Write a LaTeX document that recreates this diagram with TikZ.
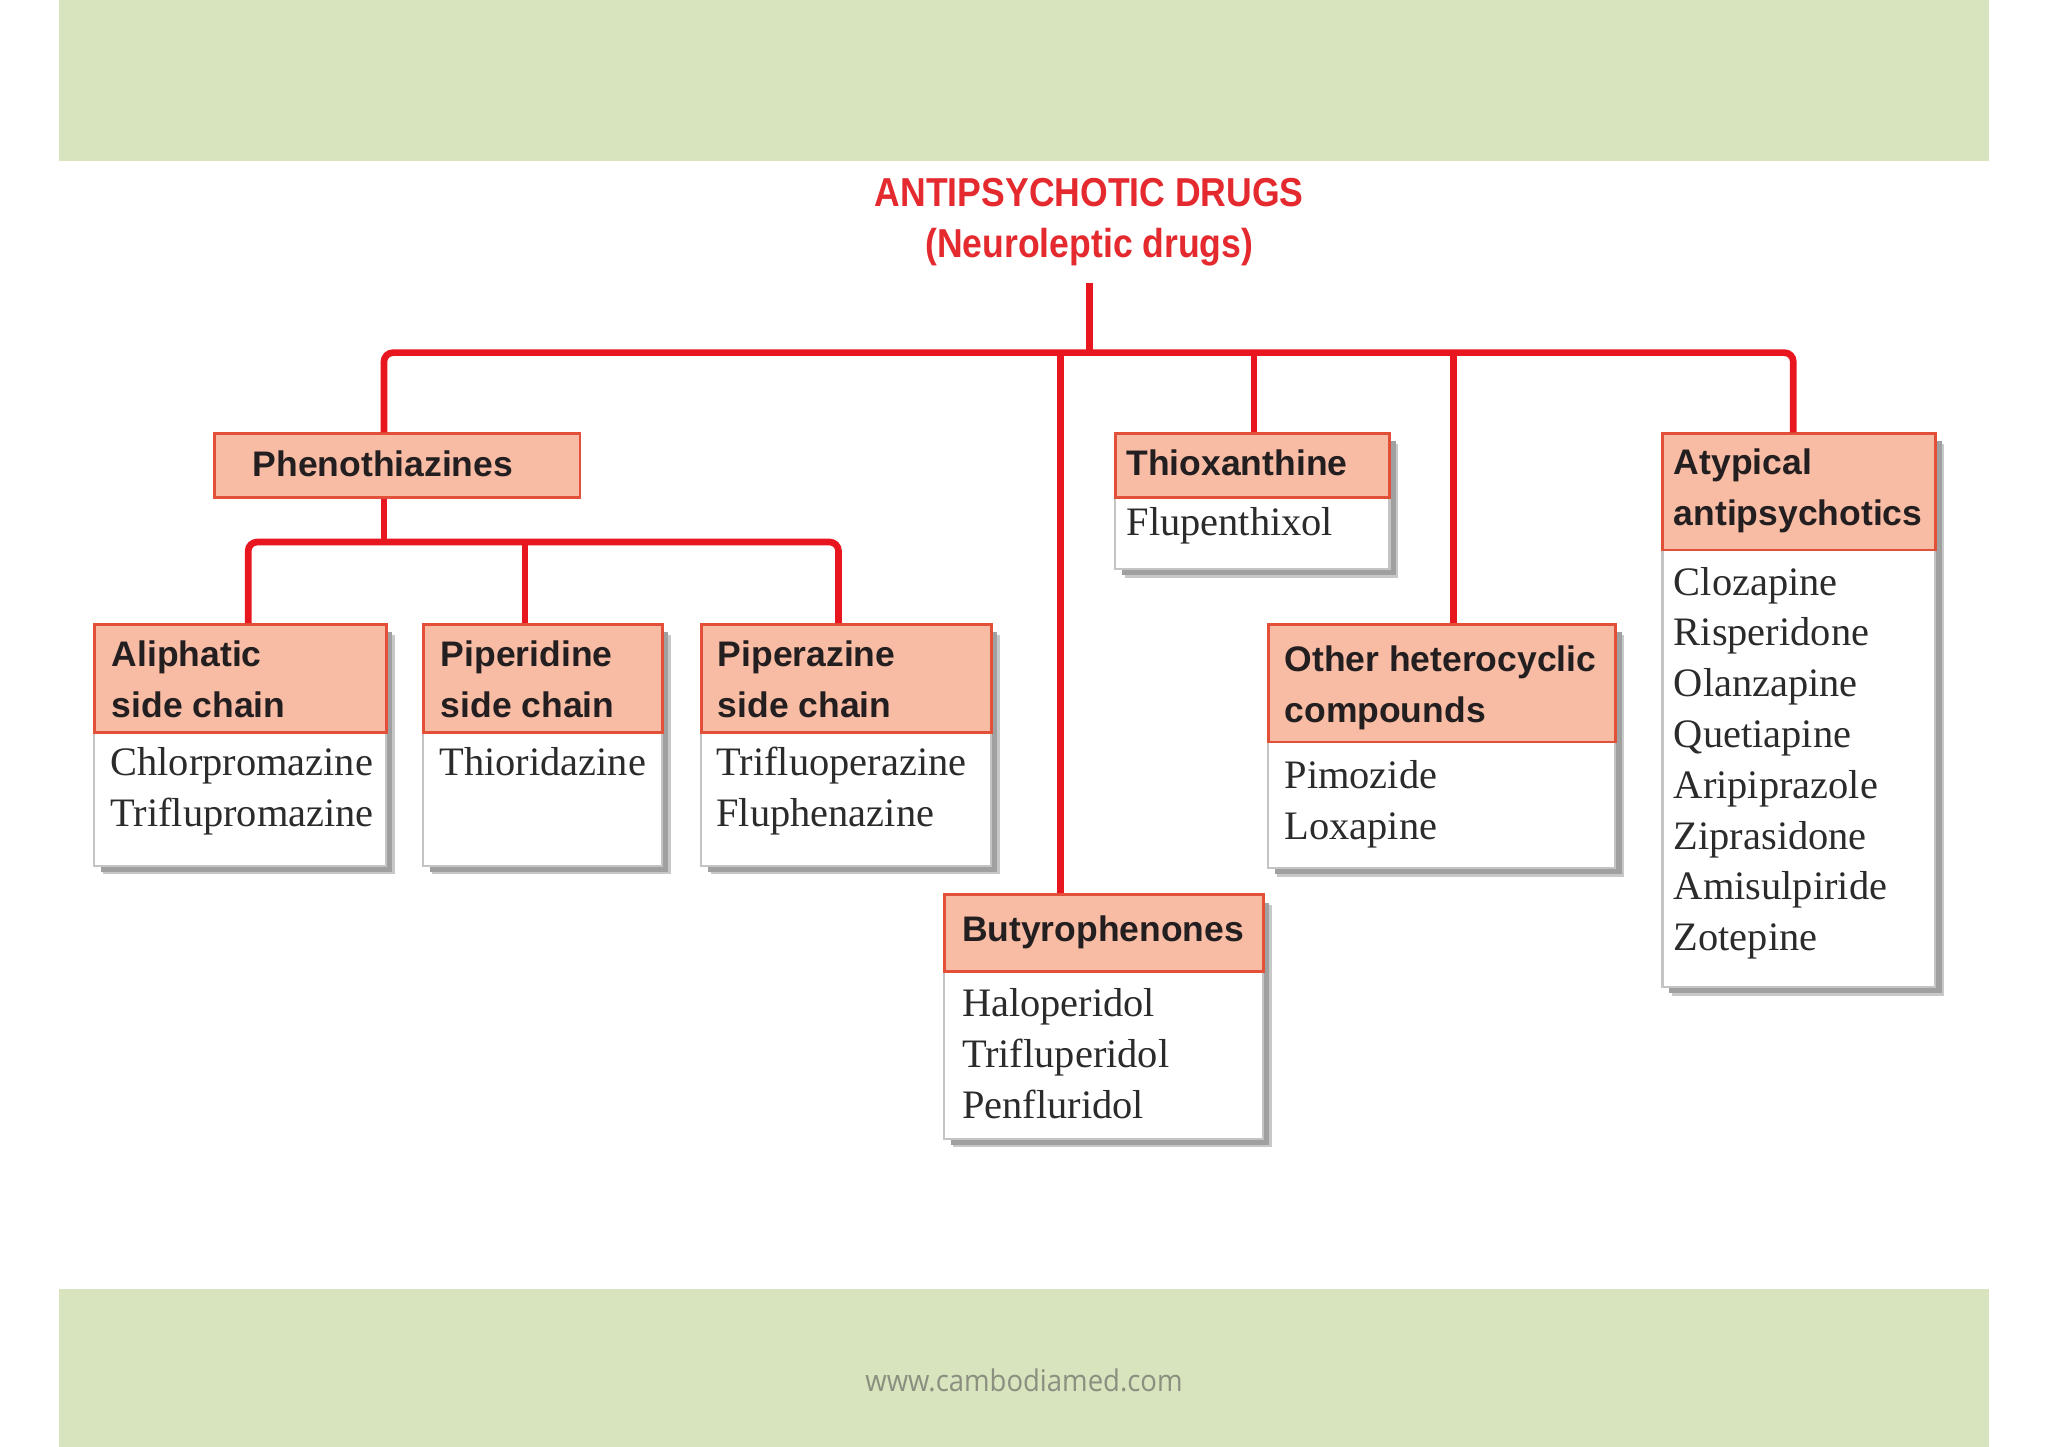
\documentclass[tikz,border=0pt]{standalone}
\usepackage{fontspec}
\usetikzlibrary{calc}
\newfontfamily\hdrfam{Liberation Sans}
\newfontfamily\titlefam{Liberation Sans}[FakeStretch=0.88]
\newfontfamily\serfam{Liberation Serif}
\newfontfamily\footfam{Open Sans}[FakeStretch=0.92]
\definecolor{bandgreen}{HTML}{D7E4BD}
\definecolor{linered}{HTML}{E8161F}
\definecolor{hdrfill}{HTML}{F8BBA3}
\definecolor{hdrborder}{HTML}{E2503A}
\definecolor{hdrtext}{HTML}{231F20}
\definecolor{bodytext}{HTML}{2B2B2B}
\definecolor{titlered}{HTML}{E42A2F}
\definecolor{shadowA}{HTML}{A0A0A0}
\definecolor{shadowB}{HTML}{C8C8C8}
\definecolor{bodyborder}{HTML}{C4C4C4}
\definecolor{foottext}{HTML}{8A8F80}
\newcommand{\U}{0.013061cm}
\tikzset{
  hdrbox/.style={rectangle, draw=hdrborder, fill=hdrfill, line width=0.8pt, inner sep=0pt, anchor=north west},
  bodybox/.style={rectangle, draw=bodyborder, fill=white, line width=0.6pt, inner sep=0pt, anchor=north west},
  htxt/.style={inner sep=0pt, anchor=base west, text=hdrtext, font=\hdrfam\bfseries\fontsize{10.1}{14}\selectfont},
  btxt/.style={inner sep=0pt, anchor=base west, text=bodytext, font=\serfam\fontsize{11.5}{14}\selectfont},
  ttxt/.style={inner sep=0pt, anchor=base, text=titlered, font=\titlefam\bfseries\fontsize{11.5}{14}\selectfont},
  conn/.style={draw=linered, line width=1.9pt},
}
% #1 name, #2 x1, #3 y top, #4 x2, #5 y header bottom, #6 y body bottom
\newcommand{\DrugBox}[6]{%
  \fill[shadowB] (#2+8,#3+9) rectangle (#4+7.5,#6+7.5);
  \fill[shadowA] (#2+6,#3+7) rectangle (#4+5.5,#6+5.5);
  \node[bodybox, minimum width={(#4-#2)*\U}, minimum height={(#6-#5)*\U}] (#1B) at (#2,#5) {};
  \node[hdrbox, minimum width={(#4-#2)*\U}, minimum height={(#5-#3)*\U}] (#1H) at (#2,#3) {};
}
\begin{document}
\begin{tikzpicture}[x=0.013061cm, y=-0.013061cm]
\path[use as bounding box, fill=white] (0,0) rectangle (1568,1107.8);
\fill[bandgreen] (45,0) rectangle (1523,123);
\fill[bandgreen] (45,987) rectangle (1523,1107.8);
\node[inner sep=0pt, anchor=base, text=foottext, font=\footfam\fontsize{8.5}{10}\selectfont] (foot) at (784,1065) {www.cambodiamed.com};

% title
\node[ttxt] (title1) at (834,158) {ANTIPSYCHOTIC DRUGS};
\node[ttxt] (title2) at (834,197) {(Neuroleptic drugs)};

% boxes
\node[hdrbox, minimum width={280*\U}, minimum height={49*\U}] (pheH) at (163,331) {};
\DrugBox{ali}{71}{477}{295}{560}{662}
\DrugBox{pip}{323}{477}{506}{560}{662}
\DrugBox{pza}{536}{477}{758}{560}{662}
\DrugBox{but}{722}{684}{966}{743}{871}
\DrugBox{thx}{853}{331}{1063}{380}{435}
\DrugBox{oth}{970}{477}{1236}{567}{664}
\DrugBox{aty}{1272}{331}{1481}{420}{755}

% header texts
\node[htxt] (pheT) at (193,365) {Phenothiazines};
\node[htxt] (aliT1) at (85,510) {Aliphatic};
\node[htxt] (aliT2) at (85,549) {side chain};
\node[htxt] (pipT1) at (337,510) {Piperidine};
\node[htxt] (pipT2) at (337,549) {side chain};
\node[htxt] (pzaT1) at (549,510) {Piperazine};
\node[htxt] (pzaT2) at (549,549) {side chain};
\node[htxt] (butT) at (736,721) {Butyrophenones};
\node[htxt] (thxT) at (862,364) {Thioxanthine};
\node[htxt] (othT1) at (983,514) {Other heterocyclic};
\node[htxt] (othT2) at (983,553) {compounds};
\node[htxt] (atyT1) at (1281,363) {Atypical};
\node[htxt] (atyT2) at (1281,402) {antipsychotics};

% body texts
\node[btxt] (ali1) at (84,594) {Chlorpromazine};
\node[btxt] (ali2) at (84,633) {Triflupromazine};
\node[btxt] (pip1) at (336,594) {Thioridazine};
\node[btxt] (pza1) at (548,594) {Trifluoperazine};
\node[btxt] (pza2) at (548,633) {Fluphenazine};
\node[btxt] (but1) at (736,778) {Haloperidol};
\node[btxt] (but2) at (736,817) {Trifluperidol};
\node[btxt] (but3) at (736,856) {Penfluridol};
\node[btxt] (thx1) at (862,410) {Flupenthixol};
\node[btxt] (oth1) at (983,604) {Pimozide};
\node[btxt] (oth2) at (983,643) {Loxapine};
\node[btxt] (aty1) at (1281,455.6) {Clozapine};
\node[btxt] (aty2) at (1281,494.5) {Risperidone};
\node[btxt] (aty3) at (1281,533.4) {Olanzapine};
\node[btxt] (aty4) at (1281,572.3) {Quetiapine};
\node[btxt] (aty5) at (1281,611.2) {Aripiprazole};
\node[btxt] (aty6) at (1281,650.1) {Ziprasidone};
\node[btxt] (aty7) at (1281,689) {Amisulpiride};
\node[btxt] (aty8) at (1281,727.9) {Zotepine};

% connectors
\coordinate (topc) at (834,217);
\coordinate (busmid) at (834,270);
\coordinate (butJ) at (812,270);
\coordinate (thxJ) at (960,270);
\coordinate (othJ) at (1113,270);
\coordinate (subJ) at (294,415);
\coordinate (pipJ) at (402,415);
\draw[conn] (topc) -- (busmid);
\draw[conn, rounded corners=0.9mm] ($(pheH.north west)+(131,0)$) |- (busmid) -| ($(atyH.north west)+(101,0)$);
\draw[conn] (butJ) -- (butJ |- butH.north);
\draw[conn] (thxJ) -- (thxJ |- thxH.north);
\draw[conn] (othJ) -- (othJ |- othH.north);
\draw[conn] (pheH.south -| subJ) -- (subJ);
\draw[conn, rounded corners=0.9mm] ($(aliH.north west)+(119,0)$) |- (subJ) -| ($(pzaH.north west)+(106,0)$);
\draw[conn] (pipJ) -- (pipJ |- pipH.north);
\end{tikzpicture}
\end{document}
